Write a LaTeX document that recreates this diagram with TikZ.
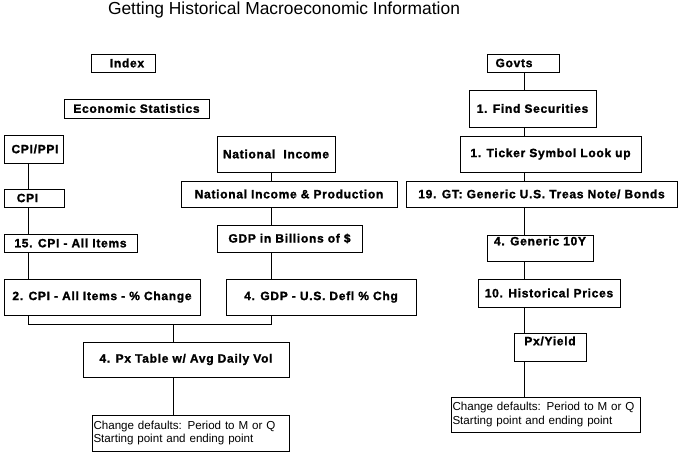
\documentclass[tikz,border=0pt]{standalone}
\usepackage{fontspec}
\setmainfont{Liberation Sans}
\newfontfamily\boxfont{Liberation Sans Bold}[LetterSpace=6, FakeBold=1.5]
\begin{document}
\begin{tikzpicture}[x=1pt,y=-1pt,
  box/.style={draw, line width=0.9pt, inner sep=0pt, font=\boxfont\fontsize{12}{14}\selectfont},
  note/.style={draw, line width=0.9pt, inner xsep=1.5pt, inner ysep=0pt, align=left, font=\fontsize{11.6}{13.5}\selectfont},
  conn/.style={line width=0.9pt}]
\useasboundingbox (0,0) rectangle (679,454);
\node[font=\fontsize{17.4}{19}\selectfont] (title) at (284,10) {Getting Historical Macroeconomic Information};
% left part
\node[box, minimum width=64, minimum height=18] (index) at (123,63) {\hspace*{8pt}Index};
\node[box, minimum width=145, minimum height=19] (econ) at (136.5,108.5) {Economic Statistics};
\node[box, minimum width=59, minimum height=28] (cpippi) at (33.5,149) {\hspace*{3pt}CPI/PPI};
\node[box, minimum width=118, minimum height=36] (natinc) at (276,154) {National\ \ Income};
\node[box, minimum width=60, minimum height=18] (cpi) at (34,198) {CPI\hspace*{13pt}};
\node[box, minimum width=216, minimum height=26] (nip) at (289,194) {National Income \& Production};
\node[box, minimum width=133, minimum height=18] (cpi15) at (70.5,243) {15. CPI - All Items};
\node[box, minimum width=145, minimum height=27] (gdp) at (289.5,238.5) {GDP in Billions of \$};
\node[box, minimum width=196, minimum height=36] (cpi2) at (102,297) {2. CPI - All Items - \% Change};
\node[box, minimum width=190, minimum height=36] (gdp4) at (321,297) {4. GDP - U.S. Defl \% Chg};
\node[box, minimum width=206, minimum height=35] (px) at (186,359.5) {4. Px Table w/ Avg Daily Vol};
\node[note, minimum width=197, minimum height=36, text width=194pt] (noteL) at (190.5,433) {Change defaults: Period to M or Q\\Starting point and ending point};
% right part
\node[box, minimum width=72, minimum height=18] (govts) at (523,63) {Govts\hspace*{18pt}};
\node[box, minimum width=127, minimum height=37] (find) at (532.5,108.5) {1. Find Securities};
\node[box, minimum width=181, minimum height=36] (ticker) at (550.5,154) {1. Ticker Symbol Look up};
\node[box, minimum width=271, minimum height=26] (gt) at (541.5,194) {19. GT: Generic U.S. Treas Note/ Bonds};
\node[box, minimum width=106, minimum height=26, label={[box,draw=none,yshift=7pt]center:4. Generic 10Y}] (gen10) at (540,248) {};
\node[box, minimum width=142, minimum height=28] (hist) at (549,293) {10. Historical Prices};
\node[box, minimum width=72, minimum height=28, label={[box,draw=none,yshift=6pt]center:Px/Yield}] (pxy) at (550,347) {};
\node[note, minimum width=189, minimum height=35, text width=186pt] (noteR) at (545.5,414.5) {Change defaults: Period to M or Q\\Starting point and ending point};
% connector columns
\coordinate (xL) at (28,0);
\coordinate (xM) at (271,0);
\coordinate (xC) at (173,0);
\coordinate (xR) at (524,0);
\coordinate (jn) at (173,324);
\draw[conn] (xL |- cpippi.south) -- (xL |- cpi.north);
\draw[conn] (xL |- cpi.south) -- (xL |- cpi15.north);
\draw[conn] (xL |- cpi15.south) -- (xL |- cpi2.north);
\draw[conn] (xM |- natinc.south) -- (xM |- nip.north);
\draw[conn] (xM |- nip.south) -- (xM |- gdp.north);
\draw[conn] (xM |- gdp.south) -- (xM |- gdp4.north);
\draw[conn] (xL |- cpi2.south) -- (xL |- jn) -- (xM |- jn) -- (xM |- gdp4.south);
\draw[conn] (jn) -- (xC |- px.north);
\draw[conn] (xC |- px.south) -- (xC |- noteL.north);
\draw[conn] (xR |- govts.south) -- (xR |- find.north);
\draw[conn] (xR |- find.south) -- (xR |- ticker.north);
\draw[conn] (xR |- ticker.south) -- (xR |- gt.north);
\draw[conn] (xR |- gt.south) -- (xR |- gen10.north);
\draw[conn] (xR |- gen10.south) -- (xR |- hist.north);
\draw[conn] (xR |- hist.south) -- (xR |- pxy.north);
\draw[conn] (xR |- pxy.south) -- (xR |- noteR.north);
\end{tikzpicture}
\end{document}
